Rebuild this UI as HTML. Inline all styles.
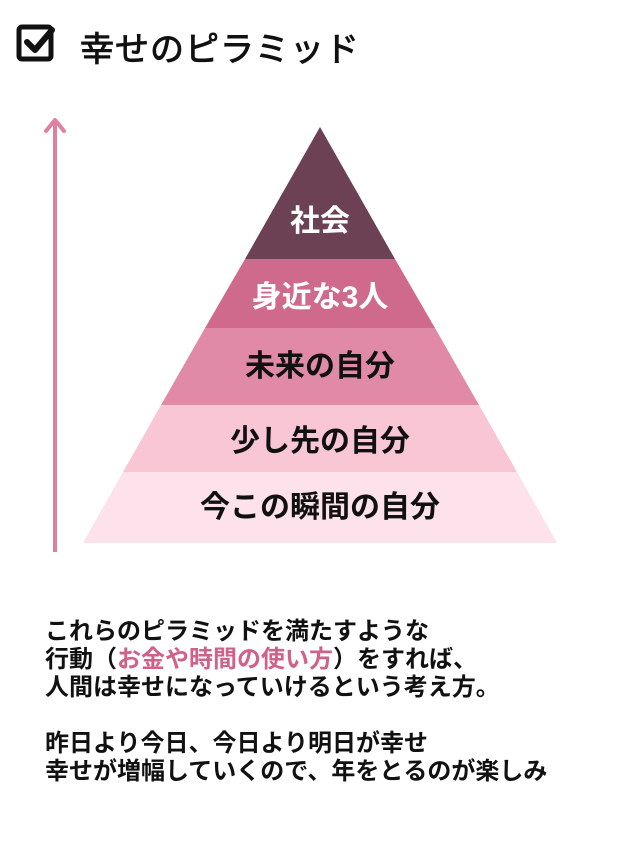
<!DOCTYPE html>
<html><head><meta charset="utf-8"><style>
body{margin:0;width:640px;height:853px;background:#fff;overflow:hidden;position:relative;font-family:"Liberation Sans","Noto Sans CJK JP",sans-serif}
.t{position:absolute;white-space:nowrap}
.body{left:45px;font-size:24px;font-weight:bold;color:#111;line-height:28px}
</style></head><body>
<svg width="640" height="853" style="position:absolute;left:0;top:0">
<rect x="19" y="27" width="32" height="32" rx="3" fill="none" stroke="#111" stroke-width="5"/>
<path d="M27 42 L35 50 L52 30" fill="none" stroke="#111" stroke-width="6" stroke-linecap="round" stroke-linejoin="round"/>
<line x1="55" y1="122" x2="55" y2="552" stroke="#e07fa0" stroke-width="4"/>
<path d="M46 131 L55 120 L64 131" fill="none" stroke="#e07fa0" stroke-width="4" stroke-linecap="round" stroke-linejoin="round"/>
<polygon points="320,127 395,259 245,259" fill="#6b4153"/>
<polygon points="245,259 395,259 435,328 205,328" fill="#cf6a8d"/>
<polygon points="205,328 435,328 479,405 161,405" fill="#e08aa7"/>
<polygon points="161,405 479,405 517,472 123,472" fill="#f9c6d6"/>
<polygon points="123,472 517,472 557,543 83,543" fill="#fde2eb"/>
<g font-family="Liberation Sans,Noto Sans CJK JP,sans-serif" font-weight="bold" font-size="30" text-anchor="middle">
<text x="320" y="231" fill="#fff">社会</text>
<text x="320" y="307" fill="#fff">身近な3人</text>
<text x="320" y="376" fill="#111">未来の自分</text>
<text x="320" y="451" fill="#111">少し先の自分</text>
<text x="320" y="517" fill="#111">今この瞬間の自分</text>
</g>
</svg>
<div class="t" style="left:80px;top:22px;font-size:34px;color:#111;letter-spacing:1px;-webkit-text-stroke:0.9px #111">幸せのピラミッド</div>
<div class="t body" style="top:618px">これらのピラミッドを満たすような<br>行動（<span style="color:#d0628a">お金や時間の使い方</span>）をすれば、<br>人間は幸せになっていけるという考え方。</div>
<div class="t body" style="top:730px">昨日より今日、今日より明日が幸せ<br>幸せが増幅していくので、年をとるのが楽しみ</div>
</body></html>
